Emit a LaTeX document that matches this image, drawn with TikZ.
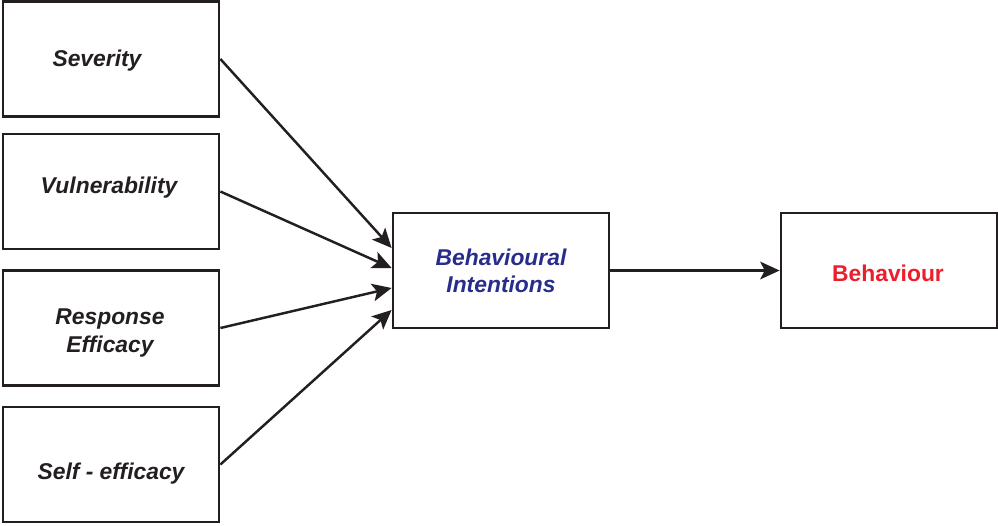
\documentclass[tikz,border=0pt]{standalone}
\usepackage{fontspec}
\setmainfont{Liberation Sans}
\usetikzlibrary{arrows.meta}
\definecolor{ln}{RGB}{35,31,32}
\definecolor{bl}{RGB}{40,45,140}
\definecolor{rd}{RGB}{235,30,45}
\begin{document}
\begin{tikzpicture}[x=0.02cm,y=-0.02cm,
  box/.style={draw=ln,line width=1.6pt,minimum width=4.32cm,minimum height=2.3cm,inner sep=0pt},
  lbl/.style={align=center,inner sep=0pt,font=\fontsize{13}{15.5}\selectfont\bfseries\itshape,text=ln},
  arr/.style={draw=ln,line width=1.4pt,-{Stealth[length=11pt,width=10pt,inset=2.5pt]}}]
\useasboundingbox (0,0) rectangle (998,525);
\node[box] (b1) at (111,59) {};
\node[box] (b2) at (111,191.5) {};
\node[box] (b3) at (111,328) {};
\node[box] (b4) at (111,464.5) {};
\node[box] (m) at (501,270.5) {};
\node[box] (r) at (889,270.5) {};
\node[lbl] (t1) at (97,61) {Severity};
\node[lbl] (t2) at (109,188) {Vulnerability};
\node[lbl] (t3) at (110,333) {Response\\Efficacy};
\node[lbl] (t4) at (111,474) {Self - efficacy};
\node[lbl,text=bl] (tm) at (501,271) {Behavioural\\Intentions};
\node[lbl,text=rd,font=\fontsize{13}{15.5}\selectfont\bfseries] (tr) at (888,273) {Behaviour};
\draw[arr] (b1.east) -- ([yshift=0.45cm]m.west);
\draw[arr] (b2.east) -- ([yshift=0.05cm]m.west);
\draw[arr] (b3.east) -- ([yshift=-0.35cm]m.west);
\draw[arr] (b4.east) -- ([yshift=-0.79cm]m.west);
\draw[arr] (m) -- (r);
\end{tikzpicture}
\end{document}
